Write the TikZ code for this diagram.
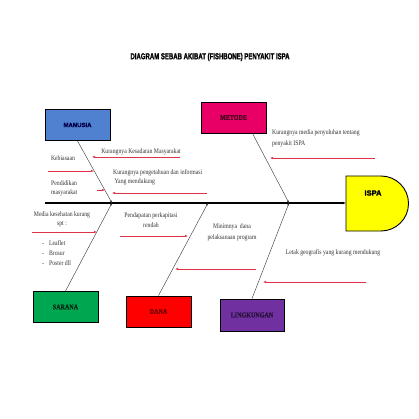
\documentclass[tikz,border=0pt]{standalone}
\usepackage{fontspec}
\setmainfont[FakeStretch=0.82,BoldFeatures={FakeBold=0.8}]{Liberation Serif}
\newfontfamily\titlefont[BoldFeatures={FakeBold=1.6}]{Liberation Sans}
\usepackage{graphicx}
\usetikzlibrary{arrows.meta}

\definecolor{manusiablue}{RGB}{79,129,208}
\definecolor{metodepink}{RGB}{232,0,102}
\definecolor{saranagreen}{RGB}{0,166,80}
\definecolor{danared}{RGB}{255,0,0}
\definecolor{lingkunganpurple}{RGB}{112,48,160}
\definecolor{ispayellow}{RGB}{255,255,0}
\definecolor{causered}{RGB}{226,48,70}

\begin{document}
\begin{tikzpicture}[x=1pt,y=-1pt,
    catbox/.style={draw=black,line width=0.9pt,minimum width=65pt,minimum height=31pt,inner sep=0pt,font=\fontsize{7.4}{8}\selectfont\bfseries},
    causetext/.style={font=\fontsize{7}{9}\selectfont,text=black!80,inner sep=0pt},
    cause/.style={causered,line width=0.5pt,-{Latex[length=3pt,width=2.4pt]}},
    bone/.style={black!75,line width=0.45pt,-{Latex[length=2.5pt,width=2pt]}}]
%% page frame
\useasboundingbox (0,0) rectangle (419,419);
%% title
\node (title) at (210,57) {\titlefont\bfseries\fontsize{8.6}{9}\selectfont\scalebox{0.7}[1]{DIAGRAM SEBAB AKIBAT (FISHBONE) PENYAKIT ISPA}};
%% head of the fish
\draw[fill=ispayellow,line width=0.9pt] (346,176) -- (381,176) arc[start angle=-90,end angle=90,radius=27.5] -- (346,231) -- cycle;
\node[font=\titlefont\bfseries\fontsize{7.5}{8}\selectfont] (ispa) at (373,193) {ISPA};
\coordinate (head) at (346,203);
\coordinate (tail) at (45,203);
\coordinate (j1) at (112,203);
\coordinate (j2) at (208,203);
\coordinate (j3) at (289,203);
\draw[line width=1.2pt,-{Latex[length=3.5pt,width=3pt]}] (tail) -- (head);
%% category boxes
\node[catbox,fill=manusiablue,text=blue!30!black,font=\titlefont\fontsize{6}{7}\selectfont\bfseries] (manusia) at (77.5,125) {MANUSIA};
\node[catbox,fill=metodepink,text=metodepink!30!black] (metode) at (233.5,117.5) {METODE};
\node[catbox,fill=saranagreen,text=saranagreen!25!black] (sarana) at (65.5,307) {SARANA};
\node[catbox,fill=danared,text=danared!45!black] (dana) at (158.5,311.5) {DANA};
\node[catbox,fill=lingkunganpurple,text=lingkunganpurple!35!black,minimum width=64pt,minimum height=32pt] (lingkungan) at (252,315) {LINGKUNGAN};
%% bones
\draw[bone] (manusia.south) -- (j1);
\draw[bone] ([xshift=19pt]metode.south) -- (j3);
\draw[bone] (sarana.north) -- (j1);
\draw[bone] (dana.north) -- (j2);
\draw[bone] (lingkungan.north) -- (j3);
%% causes
\node[causetext] (kesadaran) at (141,152) {Kurangnya Kesadaran Masyarakat};
\node[causetext] (kebiasaan) at (63,158) {Kebiasaan};
\node[causetext,anchor=west,align=left] (pengetahuan) at (113,177) {Kurangnya pengetahuan dan informasi\\\ Yang mendukung};
\node[causetext,anchor=west,align=left] (pendidikan) at (51,188.5) {Pendidikan\\masyarakat};
\node[causetext,anchor=west,align=left,font=\fontsize{7}{11}\selectfont] (penyuluhan) at (272,138.5) {Kurangnya media penyuluhan tentang\\penyakit ISPA};
\node[causetext,align=center] (media) at (62,219.5) {Media kesehatan kurang\\spt :};
\node[causetext,anchor=west,align=left,font=\fontsize{7}{10}\selectfont] (mediaList) at (42,253) {-\hspace{5pt}Leaflet\\-\hspace{5pt}Brosur\\-\hspace{5pt}Poster dll};
\node[causetext,align=center,font=\fontsize{7}{10}\selectfont] (pendapatan) at (151,220) {Pendapatan perkapitasi\\rendah};
\node[causetext,align=center,font=\fontsize{7}{11}\selectfont] (minimnya) at (232,232.5) {Minimnya\ \ dana\\pelaksanaan program};
\node[causetext] (letak) at (333,253) {Letak geografis yang kurang mendukung};
%% cause arrows
\coordinate (a1s) at (180,157); \coordinate (a1e) at (92,157);
\coordinate (a2s) at (48,171);  \coordinate (a2e) at (94,171);
\coordinate (a3s) at (207,193); \coordinate (a3e) at (112,193);
\coordinate (a4s) at (97,190);  \coordinate (a4e) at (105,190);
\coordinate (a5s) at (375,158); \coordinate (a5e) at (270,158);
\coordinate (a6s) at (32,232);  \coordinate (a6e) at (97,232);
\coordinate (a7s) at (120,236); \coordinate (a7e) at (188,236);
\coordinate (a8s) at (256,269); \coordinate (a8e) at (175,269);
\coordinate (a9s) at (366,282); \coordinate (a9e) at (263,282);
\foreach \n in {1,...,9}
    \draw[cause] (a\n s) -- (a\n e);
\end{tikzpicture}
\end{document}
